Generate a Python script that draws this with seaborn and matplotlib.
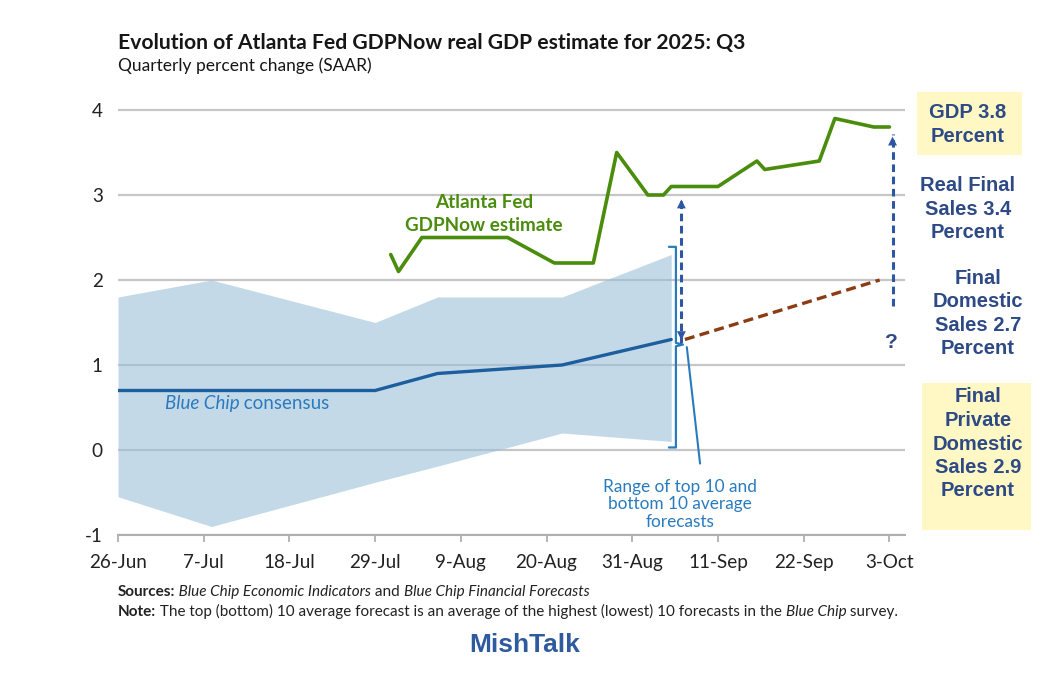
import pandas as pd
import matplotlib.pyplot as plt
from matplotlib.patches import Rectangle
import seaborn as sns

# GDPNow estimate path
gdpnow_dates = pd.to_datetime(['2025-07-31', '2025-08-01', '2025-08-04', '2025-08-15', '2025-08-21',
                               '2025-08-26', '2025-08-29', '2025-09-02', '2025-09-04', '2025-09-05',
                               '2025-09-11', '2025-09-16', '2025-09-17', '2025-09-24', '2025-09-26',
                               '2025-10-01', '2025-10-03'])
gdpnow_values = [2.3, 2.1, 2.5, 2.5, 2.2, 2.2, 3.5, 3.0, 3.0, 3.1, 3.1, 3.4, 3.3, 3.4, 3.9, 3.8, 3.8]

# Blue Chip survey: consensus and top / bottom 10 averages
bluechip_dates = pd.to_datetime(['2025-06-26', '2025-07-08', '2025-07-29', '2025-08-06', '2025-08-22', '2025-09-05'])
bluechip_consensus = [0.7, 0.7, 0.7, 0.9, 1.0, 1.3]
bluechip_top10 = [1.8, 2.0, 1.5, 1.8, 1.8, 2.3]
bluechip_bottom10 = [-0.55, -0.9, -0.38, -0.19, 0.2, 0.1]

# dashed extension of the consensus toward final domestic sales
extension_dates = pd.to_datetime(['2025-09-06 18:00', '2025-10-01 18:00'])
extension_values = [1.3, 2.0]

tick_dates = pd.date_range('2025-06-26', '2025-10-03', freq='11D')
tick_labels = [f"{d.day}-{d:%b}" for d in tick_dates]
y_ticks = [-1, 0, 1, 2, 3, 4]

side_notes = ['GDP 3.8\nPercent', 'Real Final\nSales 3.4\nPercent',
              'Final\nDomestic\nSales 2.7\nPercent', 'Final\nPrivate\nDomestic\nSales 2.9\nPercent']

GREEN = '#4a8c0c'
BLUE_LINE = '#1d5e9e'
BAND = '#9dc0da'
NOTE = '#2e4a86'
ARROW = '#2f56a3'
BROWN = '#8b3c12'
LABEL_BLUE = '#2a7bbd'
W, H = 1051, 675

sns.set_theme(style='white')
plt.rcParams['font.family'] = ['Lato', 'DejaVu Sans']
plt.rcParams['axes.unicode_minus'] = False

fig = plt.figure(figsize=(W / 100, H / 100), dpi=100)
ax = fig.add_axes([118 / W, 140 / H, 787 / W, 433.5 / H])


def fpos(x, y):
    return x / W, 1 - y / H


start = pd.Timestamp('2025-06-26')


def day(n):
    return start + pd.Timedelta(days=n)


# range band + consensus
ax.fill_between(bluechip_dates, bluechip_bottom10, bluechip_top10, color=BAND, alpha=0.6, lw=0, zorder=2)
df_bc = pd.DataFrame({'date': bluechip_dates, 'value': bluechip_consensus})
sns.lineplot(data=df_bc, x='date', y='value', color=BLUE_LINE, lw=2.4, ax=ax, zorder=4)

df_gdp = pd.DataFrame({'date': gdpnow_dates, 'value': gdpnow_values})
sns.lineplot(data=df_gdp, x='date', y='value', color=GREEN, lw=2.6, ax=ax, zorder=4)

df_ext = pd.DataFrame({'date': extension_dates, 'value': extension_values})
sns.lineplot(data=df_ext, x='date', y='value', color=BROWN, lw=2.4, ax=ax, zorder=4,
             linestyle=(0, (3, 1.6)))

# bracket around the range + leader line
ax.plot([day(70.7), day(71.6), day(71.6), day(72.5), day(71.6), day(71.6), day(70.7)],
        [2.39, 2.39, 1.26, 1.24, 1.22, 0.03, 0.03], color=LABEL_BLUE, lw=1.6, zorder=5)
ax.plot([day(73.0), day(74.7)], [1.21, -0.16], color=LABEL_BLUE, lw=1.5, zorder=5)


# dashed arrows
def dashed_arrow(x, y0, y1, both=False):
    ax.plot([x, x], [y0, y1], color=ARROW, lw=2.2, linestyle=(0, (2.5, 1.5)), zorder=6)
    ax.annotate('', xy=(x, y1), xytext=(x, y1 - 0.12),
                arrowprops=dict(arrowstyle='-|>', color=ARROW, lw=0, mutation_scale=16), zorder=6)
    if both:
        ax.annotate('', xy=(x, y0), xytext=(x, y0 + 0.12),
                    arrowprops=dict(arrowstyle='-|>', color=ARROW, lw=0, mutation_scale=16), zorder=6)


dashed_arrow(day(72.3), 1.26, 2.98, both=True)
dashed_arrow(day(99.4), 1.69, 3.72)

# in-chart labels
ax.text(day(47), 2.78, 'Atlanta Fed\nGDPNow estimate', color=GREEN, fontsize=13.6, fontweight='bold',
        ha='center', va='center', linespacing=1.45, zorder=7)
t1 = ax.text(day(6.0), 0.55, 'Blue Chip', color=LABEL_BLUE, fontsize=13.5, style='italic',
             ha='left', va='center', zorder=7)
ax.annotate(' consensus', xy=(1, 0), xycoords=t1, color=LABEL_BLUE, fontsize=13.5,
            ha='left', va='bottom', zorder=7)
ax.text(day(72.1), -0.64, 'Range of top 10 and\nbottom 10 average\nforecasts', color=LABEL_BLUE,
        fontsize=12.4, ha='center', va='center', linespacing=1.12, zorder=7)

# axes styling
ax.set_xlim(start, day(101))
ax.set_ylim(-1, 4.1)
ax.set_yticks(y_ticks)
ax.set_xticks(tick_dates)
ax.set_xticklabels(tick_labels)
ax.set_xlabel('')
ax.set_ylabel('')
ax.grid(axis='y', color='#c6c6c6', lw=1.6, zorder=1)
ax.grid(axis='x', visible=False)
ax.set_axisbelow(True)
for s in ['top', 'right', 'left']:
    ax.spines[s].set_visible(False)
ax.spines['bottom'].set_color('#b0b0b0')
ax.spines['bottom'].set_linewidth(1.5)
ax.tick_params(axis='x', length=5, width=1.3, color='#b0b0b0', labelsize=13.6, labelcolor='#222222', pad=9,
               bottom=True)
ax.tick_params(axis='y', length=0, labelsize=13.6, labelcolor='#222222', pad=11)

# titles
fig.text(*fpos(118, 43), 'Evolution of Atlanta Fed GDPNow real GDP estimate for 2025: Q3',
         fontsize=15.2, fontweight='bold', color='#161616', ha='left', va='center')
fig.text(*fpos(118, 66), 'Quarterly percent change (SAAR)', fontsize=12.5, color='#161616',
         ha='left', va='center')

# sources / note
small = dict(fontsize=11.0, color='#222222')
s1 = fig.text(*fpos(118, 592), 'Sources:', fontweight='bold', ha='left', va='center', **small)
prev = s1
for txt, st in [(' Blue Chip Economic Indicators', 'italic'), (' and ', 'normal'),
                ('Blue Chip Financial Forecasts', 'italic')]:
    prev = ax.annotate(txt, xy=(1, 0), xycoords=prev, style=st, ha='left', va='bottom',
                       annotation_clip=False, **small)
n1 = fig.text(*fpos(118, 612), 'Note:', fontweight='bold', ha='left', va='center', **small)
prev = n1
for txt, st in [(' The top (bottom) 10 average forecast is an average of the highest (lowest) 10 forecasts in the ',
                 'normal'), ('Blue Chip', 'italic'), (' survey.', 'normal')]:
    prev = ax.annotate(txt, xy=(1, 0), xycoords=prev, style=st, ha='left', va='bottom',
                       annotation_clip=False, **small)

fig.text(*fpos(525, 645), 'MishTalk', fontsize=19, fontweight='bold', color='#2e5a9e',
         family=['Liberation Sans', 'DejaVu Sans'], ha='center', va='center')

# right-hand notes
fig.patches.append(Rectangle(fpos(917, 155), 105 / W, 63 / H, transform=fig.transFigure,
                             facecolor='#fff8c4', edgecolor='none', zorder=0))
fig.patches.append(Rectangle(fpos(922, 530), 109 / W, 147 / H, transform=fig.transFigure,
                             facecolor='#fff8c4', edgecolor='none', zorder=0))
note_pos = [(968, 124.5), (968, 209), (978, 313.5), (978, 444)]
for txt, (x, y) in zip(side_notes, note_pos):
    fig.text(*fpos(x, y), txt, fontsize=14.5, fontweight='bold', color=NOTE, ha='center', va='center',
             multialignment='center', linespacing=1.3, family=['Liberation Sans', 'DejaVu Sans'])
fig.text(*fpos(891, 343), '?', fontsize=15, fontweight='bold', color=NOTE, ha='center', va='center',
         family=['Liberation Sans', 'DejaVu Sans'])

fig.savefig('out.png', dpi=100)
